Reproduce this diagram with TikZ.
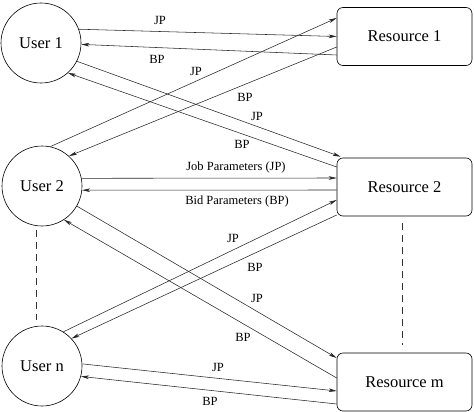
\documentclass[tikz,border=0pt]{standalone}
\usepackage{fontspec}
\setmainfont{Liberation Serif}
\usetikzlibrary{arrows.meta}
\begin{document}
\begin{tikzpicture}[x=1pt,y=-1pt,
  user/.style={circle,draw,line width=0.6pt,minimum size=80pt,inner sep=0pt,font=\fontsize{16.5}{18}\selectfont},
  res/.style={rectangle,rounded corners=6pt,draw,line width=0.6pt,minimum width=135pt,minimum height=58pt,inner sep=0pt,font=\fontsize{16.5}{18}\selectfont},
  msg/.style={draw=black!85,line width=0.55pt,-{Stealth[length=8pt,width=3.6pt,inset=2.2pt]}},
  lbl/.style={font=\fontsize{12.5}{14}\selectfont,inner sep=0pt},
  sep/.style={draw=black!80,line width=0.6pt,dash pattern=on 7pt off 5pt}]
\useasboundingbox (0,0) rectangle (474,412);
\node[user] (u1) at (41,43) {User 1};
\node[user] (u2) at (42,186) {User 2};
\node[user] (un) at (42,366) {User n};
\node[res] (r1) at (404.5,36.5) {Resource 1};
\node[res] (r2) at (404.5,187) {Resource 2};
\node[res] (rm) at (404.5,382) {Resource m};
% User 1
\draw[msg] (u1.20) -- ([yshift=0pt]r1.west);
\draw[msg] ([yshift=-18.5pt]r1.west) -- (u1.-2);
\draw[msg] (u1.-27) -- ([xshift=4pt,yshift=1pt]r2.north west);
\draw[msg] ([yshift=20pt]r2.west) -- (u1.-48);
% User 2
\draw[msg] (u2.78) -- ([yshift=18.5pt]r1.west);
\draw[msg] ([yshift=-10.5pt]r1.west) -- (u2.48);
\draw[msg] (u2.11) -- ([yshift=9pt]r2.west);
\draw[msg] ([yshift=-3pt]r2.west) -- (u2.-6);
\draw[msg] (u2.-30) -- ([yshift=24pt]rm.west);
\draw[msg] ([yshift=4pt]rm.west) -- (u2.-57);
% User n
\draw[msg] (un.58) -- ([yshift=-13pt]r2.west);
\draw[msg] ([yshift=-28pt]r2.west) -- (un.43);
\draw[msg] (un.3) -- ([yshift=-9pt]rm.west);
\draw[msg] ([yshift=-22pt]rm.west) -- (un.-15);
% labels
\node[lbl] (l1) at (160,20) {JP};
\node[lbl] (l2) at (157,59) {BP};
\node[lbl] (l3) at (196,71) {JP};
\node[lbl] (l4) at (245,97) {BP};
\node[lbl] (l5) at (257,116) {JP};
\node[lbl] (l6) at (242,144) {BP};
\node[lbl] (l7) at (236,167) {Job Parameters (JP)};
\node[lbl] (l8) at (237,201) {Bid Parameters (BP)};
\node[lbl] (l9) at (233,238) {JP};
\node[lbl] (l10) at (255,267) {BP};
\node[lbl] (l11) at (257,298) {JP};
\node[lbl] (l12) at (243,337) {BP};
\node[lbl] (l13) at (218,367) {JP};
\node[lbl] (l14) at (210,401) {BP};
% ellipsis dashes
\draw[sep] ([xshift=-6pt,yshift=-4pt]u2.south) -- ([xshift=-6pt,yshift=6pt]un.north);
\draw[sep] ([xshift=-2.5pt,yshift=-7pt]r2.south) -- ([xshift=-2.5pt,yshift=8pt]rm.north);
\end{tikzpicture}
\end{document}
